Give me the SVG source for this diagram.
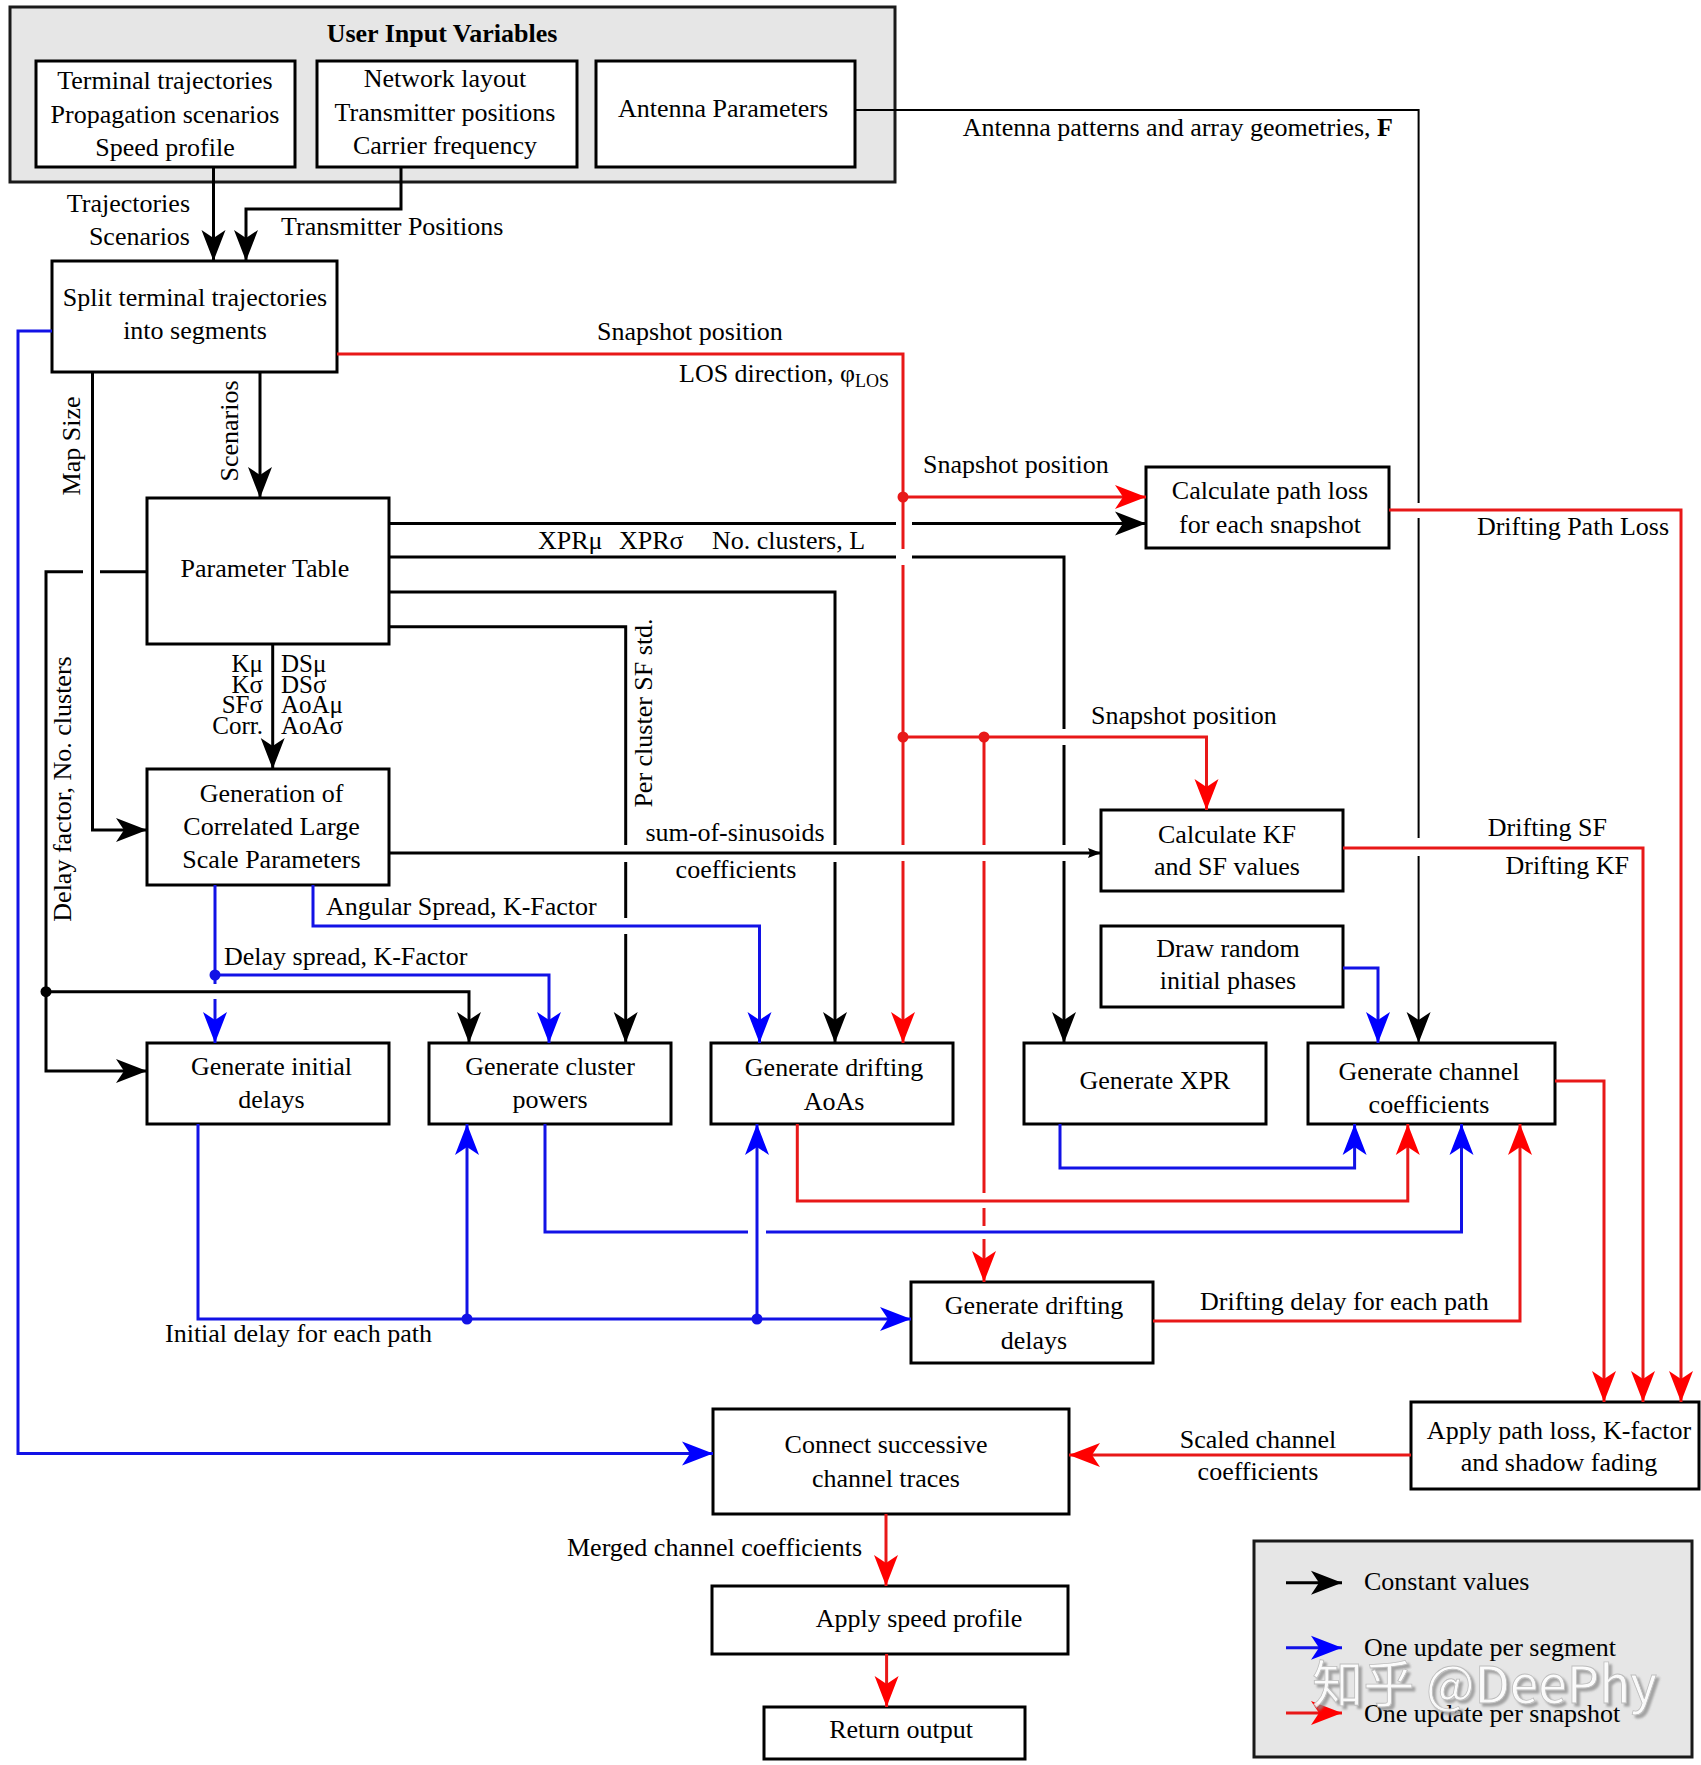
<svg xmlns="http://www.w3.org/2000/svg" width="1701" height="1765" viewBox="0 0 1701 1765">
<style>
.box{fill:#fff;stroke:#000;stroke-width:3}
.gray{fill:#e6e6e6;stroke:#1a1a1a;stroke-width:3}
.t{font-family:"Liberation Serif","Times New Roman",serif;font-size:26px;fill:#000}
.s{font-size:25px}
.m{text-anchor:middle}
.e{text-anchor:end}
.k{fill:none;stroke:#000;stroke-width:3}
.kt{fill:none;stroke:#000;stroke-width:2}
.b{fill:none;stroke:#1212e6;stroke-width:3}
.r{fill:none;stroke:#e81818;stroke-width:3}
.ka{marker-end:url(#ak)}
.ks{marker-end:url(#aks)}
.ba{marker-end:url(#ab)}
.ra{marker-end:url(#ar)}
</style>
<defs>
<marker id="ak" markerUnits="userSpaceOnUse" viewBox="-34 -14 36 28" markerWidth="36" markerHeight="28" refX="0" refY="0" orient="auto" overflow="visible"><path d="M0,0 L-31,-12 L-23,0 L-31,12 Z" fill="#000"/></marker>
<marker id="ab" markerUnits="userSpaceOnUse" viewBox="-34 -14 36 28" markerWidth="36" markerHeight="28" refX="0" refY="0" orient="auto" overflow="visible"><path d="M0,0 L-31,-12 L-23,0 L-31,12 Z" fill="#0000ff"/></marker>
<marker id="ar" markerUnits="userSpaceOnUse" viewBox="-34 -14 36 28" markerWidth="36" markerHeight="28" refX="0" refY="0" orient="auto" overflow="visible"><path d="M0,0 L-31,-12 L-23,0 L-31,12 Z" fill="#ff0000"/></marker>
<marker id="aks" markerUnits="userSpaceOnUse" viewBox="-15 -6 16 12" markerWidth="16" markerHeight="12" refX="0" refY="0" orient="auto" overflow="visible"><path d="M0,0 L-13,-5 L-11,0 L-13,5 Z" fill="#000"/></marker>
<filter id="wmshadow" x="-5%" y="-20%" width="115%" height="150%"><feDropShadow dx="3" dy="3" stdDeviation="1" flood-color="#8a8a8a" flood-opacity="0.8"/></filter>
</defs>

<g id="user-input">
<rect class="gray" x="10" y="7" width="885" height="175"/>
<text class="t m" x="442" y="42" font-weight="bold">User Input Variables</text>
</g>
<g id="terminal">
<rect class="box" x="36" y="61" width="259" height="106"/>
<text class="t m" x="165" y="89">Terminal trajectories</text>
<text class="t m" x="165" y="123">Propagation scenarios</text>
<text class="t m" x="165" y="156">Speed profile</text>
</g>
<g id="network">
<rect class="box" x="317" y="61" width="260" height="106"/>
<text class="t m" x="445" y="87">Network layout</text>
<text class="t m" x="445" y="121">Transmitter positions</text>
<text class="t m" x="445" y="154">Carrier frequency</text>
</g>
<g id="antenna">
<rect class="box" x="596" y="61" width="259" height="106"/>
<text class="t m" x="723" y="117">Antenna Parameters</text>
</g>
<g id="split">
<rect class="box" x="52" y="261" width="285" height="111"/>
<text class="t m" x="195" y="306">Split terminal trajectories</text>
<text class="t m" x="195" y="339">into segments</text>
</g>
<g id="param">
<rect class="box" x="147" y="498" width="242" height="146"/>
<text class="t m" x="265" y="577">Parameter Table</text>
</g>
<g id="lsp">
<rect class="box" x="147" y="769" width="242" height="116"/>
<text class="t m" x="271.5" y="802">Generation of</text>
<text class="t m" x="271.5" y="835">Correlated Large</text>
<text class="t m" x="271.5" y="868">Scale Parameters</text>
</g>
<g id="pathloss">
<rect class="box" x="1146" y="467" width="243" height="81"/>
<text class="t m" x="1270" y="499">Calculate path loss</text>
<text class="t m" x="1270" y="533">for each snapshot</text>
</g>
<g id="kfsf">
<rect class="box" x="1101" y="810" width="242" height="81"/>
<text class="t m" x="1227" y="843">Calculate KF</text>
<text class="t m" x="1227" y="875">and SF values</text>
</g>
<g id="phases">
<rect class="box" x="1101" y="926" width="242" height="81"/>
<text class="t m" x="1228" y="957">Draw random</text>
<text class="t m" x="1228" y="989">initial phases</text>
</g>
<g id="delays">
<rect class="box" x="147" y="1043" width="242" height="81"/>
<text class="t m" x="271.5" y="1075">Generate initial</text>
<text class="t m" x="271.5" y="1108">delays</text>
</g>
<g id="powers">
<rect class="box" x="429" y="1043" width="242" height="81"/>
<text class="t m" x="550" y="1075">Generate cluster</text>
<text class="t m" x="550" y="1108">powers</text>
</g>
<g id="aoas">
<rect class="box" x="711" y="1043" width="242" height="81"/>
<text class="t m" x="834" y="1076">Generate drifting</text>
<text class="t m" x="834" y="1110">AoAs</text>
</g>
<g id="xpr">
<rect class="box" x="1024" y="1043" width="242" height="81"/>
<text class="t m" x="1155" y="1089">Generate XPR</text>
</g>
<g id="coeffs">
<rect class="box" x="1308" y="1043" width="247" height="81"/>
<text class="t m" x="1429" y="1080">Generate channel</text>
<text class="t m" x="1429" y="1113">coefficients</text>
</g>
<g id="ddelays">
<rect class="box" x="911" y="1282" width="242" height="81"/>
<text class="t m" x="1034" y="1314">Generate drifting</text>
<text class="t m" x="1034" y="1349">delays</text>
</g>
<g id="applypl">
<rect class="box" x="1411" y="1402" width="288" height="87"/>
<text class="t m" x="1559" y="1439">Apply path loss, K-factor</text>
<text class="t m" x="1559" y="1471">and shadow fading</text>
</g>
<g id="connect">
<rect class="box" x="713" y="1409" width="356" height="105"/>
<text class="t m" x="886" y="1453">Connect successive</text>
<text class="t m" x="886" y="1487">channel traces</text>
</g>
<g id="speed">
<rect class="box" x="712" y="1586" width="356" height="68"/>
<text class="t m" x="919" y="1627">Apply speed profile</text>
</g>
<g id="output">
<rect class="box" x="764" y="1707" width="261" height="52"/>
<text class="t m" x="901" y="1738">Return output</text>
</g>

<g id="connectors">
<path class="k ka" d="M213.5,167 V261"/>
<path class="k ka" d="M401,167 V209 H246 V261"/>
<path class="kt" d="M855,110 H1418.6 V503 M1418.6,518 V838"/>
<path class="kt ka" d="M1418.6,856 V1043"/>
<path class="k ka" d="M260,372 V498"/>
<path class="k ka" d="M92.5,372 V830 H147"/>
<path class="k ka" d="M272.7,644 V769"/>
<path class="k" d="M389,523.5 H896"/>
<path class="k ka" d="M912,523.5 H1146"/>
<path class="k" d="M389,557 H896 M912,557 H1064 V729 M1064,745 V845"/>
<path class="k ka" d="M1064,861 V1043"/>
<path class="k" d="M389,592 H835 V845"/>
<path class="k ka" d="M835,862 V1043"/>
<path class="k" d="M389,626.7 H625.7 V845 M625.7,862 V918"/>
<path class="k ka" d="M625.7,934 V1043"/>
<path class="k ks" d="M389,853 H1101"/>
<path class="k" d="M147,571.7 H100"/>
<path class="k ka" d="M83,571.7 H46 V1071 H147"/>
<path class="k ka" d="M46,991.7 H469 V1043"/>
<circle cx="46" cy="991.7" r="5.5" fill="#000"/>
<path class="b ba" d="M52,331 H18 V1453.5 H713"/>
<path class="b" d="M215,885 V984"/>
<path class="b ba" d="M215,999 V1043"/>
<path class="b ba" d="M215,975 H549 V1043"/>
<circle cx="215" cy="975" r="5.5" fill="#1212e6"/>
<path class="b ba" d="M313,885 V926 H759.5 V1043"/>
<path class="b ba" d="M198,1124 V1319 H911"/>
<path class="b ba" d="M467,1319 V1124"/>
<path class="b ba" d="M757,1319 V1124"/>
<circle cx="467" cy="1319" r="5.5" fill="#1212e6"/>
<circle cx="757" cy="1319" r="5.5" fill="#1212e6"/>
<path class="b" d="M545,1124 V1232 H748"/>
<path class="b ba" d="M766,1232 H1461.5 V1124"/>
<path class="b ba" d="M1343,968 H1378 V1043"/>
<path class="b ba" d="M1060,1124 V1168 H1354.6 V1124"/>
<path class="r" d="M337,354 H903 V549 M903,565 V845"/>
<path class="r ra" d="M903,861 V1043"/>
<path class="r ra" d="M903,497 H1146"/>
<path class="r ra" d="M903,737 H1206.5 V810"/>
<circle cx="903" cy="497" r="5.5" fill="#e81818"/>
<circle cx="903" cy="737" r="5.5" fill="#e81818"/>
<circle cx="984" cy="737" r="5.5" fill="#e81818"/>
<path class="r" d="M984,737 V845 M984,861 V1193 M984,1208 V1226"/>
<path class="r ra" d="M984,1239 V1282"/>
<path class="r ra" d="M797.3,1124 V1201 H1407.8 V1124"/>
<path class="r ra" d="M1153,1321 H1520 V1124"/>
<path class="r ra" d="M1555,1081 H1604 V1402"/>
<path class="r ra" d="M1343,848 H1643 V1402"/>
<path class="r ra" d="M1389,510 H1681 V1402"/>
<path class="r ra" d="M1411,1455 H1069"/>
<path class="r ra" d="M886,1514 V1586"/>
<path class="r ra" d="M886.6,1654 V1707"/>
</g>

<g id="labels">
<text class="t e" x="190" y="212">Trajectories</text>
<text class="t e" x="190" y="245">Scenarios</text>
<text class="t" x="281" y="235">Transmitter Positions</text>
<text class="t e" x="1393" y="136">Antenna patterns and array geometries, <tspan font-weight="bold">F</tspan></text>
<text class="t" x="597" y="340">Snapshot position</text>
<text class="t" x="679" y="382">LOS direction, φ<tspan font-size="18" dy="5">LOS</tspan></text>
<text class="t" x="923" y="473">Snapshot position</text>
<text class="t e" x="1669" y="535">Drifting Path Loss</text>
<text class="t" x="538" y="549">XPRμ</text>
<text class="t" x="619" y="549">XPRσ</text>
<text class="t" x="712" y="549">No. clusters, L</text>
<text class="t m" transform="translate(80,446) rotate(-90)">Map Size</text>
<text class="t m" transform="translate(238,431) rotate(-90)">Scenarios</text>
<text class="t m" transform="translate(71,789) rotate(-90)">Delay factor, No. clusters</text>
<text class="t m" transform="translate(652,713) rotate(-90)">Per cluster SF std.</text>
<text class="t s e" x="263" y="672">Kμ</text>
<text class="t s e" x="263" y="692.5">Kσ</text>
<text class="t s e" x="263" y="713">SFσ</text>
<text class="t s e" x="263" y="733.5">Corr.</text>
<text class="t s" x="281" y="672">DSμ</text>
<text class="t s" x="281" y="692.5">DSσ</text>
<text class="t s" x="281" y="713">AoAμ</text>
<text class="t s" x="281" y="733.5">AoAσ</text>
<text class="t" x="1091" y="724">Snapshot position</text>
<text class="t m" x="735" y="841">sum-of-sinusoids</text>
<text class="t m" x="736" y="878">coefficients</text>
<text class="t e" x="1607" y="836">Drifting SF</text>
<text class="t e" x="1629" y="874">Drifting KF</text>
<text class="t" x="326" y="915">Angular Spread, K-Factor</text>
<text class="t" x="224" y="965">Delay spread, K-Factor</text>
<text class="t" x="165" y="1342">Initial delay for each path</text>
<text class="t" x="1200" y="1310">Drifting delay for each path</text>
<text class="t m" x="1258" y="1448">Scaled channel</text>
<text class="t m" x="1258" y="1480">coefficients</text>
<text class="t e" x="862" y="1556">Merged channel coefficients</text>
</g>

<g id="legend">
<rect class="gray" x="1254" y="1541" width="438" height="216"/>
<path class="k ka" d="M1286,1582.7 H1342"/>
<path class="b ba" d="M1286,1647.7 H1342"/>
<path class="r ra" d="M1286,1713 H1342"/>
<text class="t" x="1364" y="1590">Constant values</text>
<text class="t" x="1364" y="1656">One update per segment</text>
<text class="t" x="1364" y="1722">One update per snapshot</text>
</g>

<g id="watermark">
<text x="1312" y="1703" font-family="'Noto Sans CJK SC','Liberation Sans',sans-serif" font-size="51" fill="#ffffff" fill-opacity="0.9" stroke="#bdbdbd" stroke-width="0.8" filter="url(#wmshadow)" textLength="345" lengthAdjust="spacingAndGlyphs">知乎 @DeePhy</text>
</g>
</svg>
